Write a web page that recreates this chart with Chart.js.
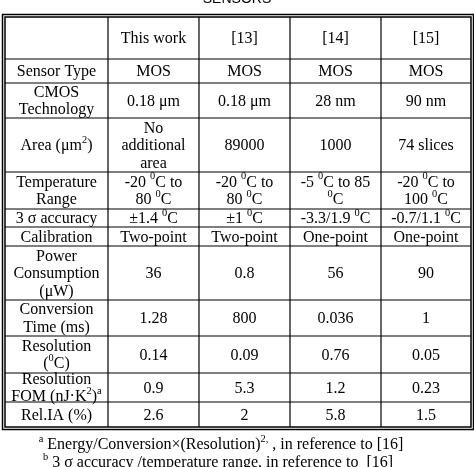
<!DOCTYPE html>
<html>
<head>
<meta charset="utf-8">
<script src="https://cdn.jsdelivr.net/npm/chart.js@4.4.1/dist/chart.umd.min.js"></script>
<style>
  body { margin: 0; background: #fff; }
  #wrap { width: 474px; height: 467px; }
</style>
</head>
<body>
<div id="wrap"><canvas id="tableChart"></canvas></div>
<script>
// Encabezados y filas de la tabla (^...^ = superíndice)
const colHeaders = ['', 'This work', '[13]', '[14]', '[15]'];
const rowLabels = ['Sensor Type', 'CMOS\nTechnology', 'Area (μm^2^)', 'Temperature\nRange',
    '3 σ accuracy', 'Calibration', 'Power\nConsumption\n(μW)', 'Conversion\nTime (ms)',
    'Resolution\n(^0^C)', 'Resolution\nFOM (nJ·K^2^)^a^', 'Rel.IA (%)'];
const thisWork = ['MOS', '0.18 μm', 'No\nadditional\narea', '-20 ^0^C to\n80 ^0^C', '±1.4 ^0^C',
    'Two-point', '36', '1.28', '0.14', '0.9', '2.6'];
const ref13 = ['MOS', '0.18 μm', '89000', '-20 ^0^C to\n80 ^0^C', '±1 ^0^C',
    'Two-point', '0.8', '800', '0.09', '5.3', '2'];
const ref14 = ['MOS', '28 nm', '1000', '-5 ^0^C to 85\n^0^C', '-3.3/1.9 ^0^C',
    'One-point', '56', '0.036', '0.76', '1.2', '5.8'];
const ref15 = ['MOS', '90 nm', '74 slices', '-20 ^0^C to\n100 ^0^C', '-0.7/1.1 ^0^C',
    'One-point', '90', '1', '0.05', '0.23', '1.5'];
const footnotes = ['^a^ Energy/Conversion×(Resolution)^2,^ , in reference to [16]',
    '^b^ 3 σ accuracy /temperature range, in reference to  [16]'];

// Bordes de columnas y filas (unidades de las escalas)
const colEdges = [0, 103, 194, 285, 376, 466];
const rowEdges = [0, 42, 66, 101, 155, 192, 210, 229, 283, 319, 356, 385, 410];

const FONT = '"Liberation Serif", "Times New Roman", serif';
const SIZE = 16;

function drawRich(ctx, text, cx, y) {
    const parts = text.split('^');
    let total = 0;
    parts.forEach((p, i) => {
        ctx.font = (i % 2 ? SIZE * 0.65 : SIZE) + 'px ' + FONT;
        total += ctx.measureText(p).width;
    });
    let x = cx - total / 2;
    ctx.textAlign = 'left';
    parts.forEach((p, i) => {
        ctx.font = (i % 2 ? SIZE * 0.65 : SIZE) + 'px ' + FONT;
        ctx.fillText(p, x, i % 2 ? y - 6 : y);
        x += ctx.measureText(p).width;
    });
}

const tablePlugin = {
    id: 'tablePlugin',
    afterDraw(chart) {
        const ctx = chart.ctx;
        const xs = chart.scales.x, ys = chart.scales.y;
        const px = v => xs.getPixelForValue(v);
        const py = v => ys.getPixelForValue(v);
        const x0 = px(colEdges[0]), x1 = px(colEdges[colEdges.length - 1]);
        const y0 = py(rowEdges[0]), y1 = py(rowEdges[rowEdges.length - 1]);
        ctx.save();
        ctx.strokeStyle = '#000';
        // Borde doble exterior
        ctx.lineWidth = 1.5;
        ctx.strokeRect(x0 - 2.5, y0 - 2.5, x1 - x0 + 5, y1 - y0 + 5);
        ctx.strokeRect(x0, y0, x1 - x0, y1 - y0);
        ctx.lineWidth = 1.2;
        colEdges.slice(1, -1).forEach(c => {
            ctx.beginPath(); ctx.moveTo(px(c), y0); ctx.lineTo(px(c), y1); ctx.stroke();
        });
        rowEdges.slice(1, -1).forEach(r => {
            ctx.beginPath(); ctx.moveTo(x0, py(r)); ctx.lineTo(x1, py(r)); ctx.stroke();
        });
        // Textos de celdas
        ctx.fillStyle = '#000';
        ctx.textBaseline = 'middle';
        const columns = [rowLabels, thisWork, ref13, ref14, ref15];
        const cell = (text, c, r) => {
            const lines = text.split('\n');
            const cx = (px(colEdges[c]) + px(colEdges[c + 1])) / 2;
            const cy = (py(rowEdges[r]) + py(rowEdges[r + 1])) / 2;
            const lh = 17.5;
            lines.forEach((l, i) => drawRich(ctx, l, cx, cy + (i - (lines.length - 1) / 2) * lh + 1));
        };
        colHeaders.forEach((h, c) => cell(h, c, 0));
        columns.forEach((col, c) => col.forEach((t, r) => cell(t, c, r + 1)));
        // Título cortado y notas
        ctx.font = '14px "Liberation Sans", sans-serif';
        ctx.textAlign = 'center';
        ctx.fillText('SENSORS', 237, -1);
        drawRich(ctx, footnotes[0], 221, 445);
        drawRich(ctx, footnotes[1], 218, 463);
        ctx.restore();
    }
};

document.addEventListener('DOMContentLoaded', function() {
    new Chart(document.getElementById('tableChart').getContext('2d'), {
        type: 'scatter',
        data: { datasets: [{ data: [] }] },
        options: {
            responsive: true,
            maintainAspectRatio: false,
            animation: false,
            layout: { padding: { left: 5, right: 3, top: 17, bottom: 40 } },
            plugins: { legend: { display: false }, tooltip: { enabled: false } },
            scales: {
                x: { type: 'linear', display: false, min: colEdges[0], max: colEdges[colEdges.length - 1] },
                y: { type: 'linear', display: false, reverse: true, min: rowEdges[0], max: rowEdges[rowEdges.length - 1] }
            }
        },
        plugins: [tablePlugin]
    });
});
</script>
</body>
</html>
